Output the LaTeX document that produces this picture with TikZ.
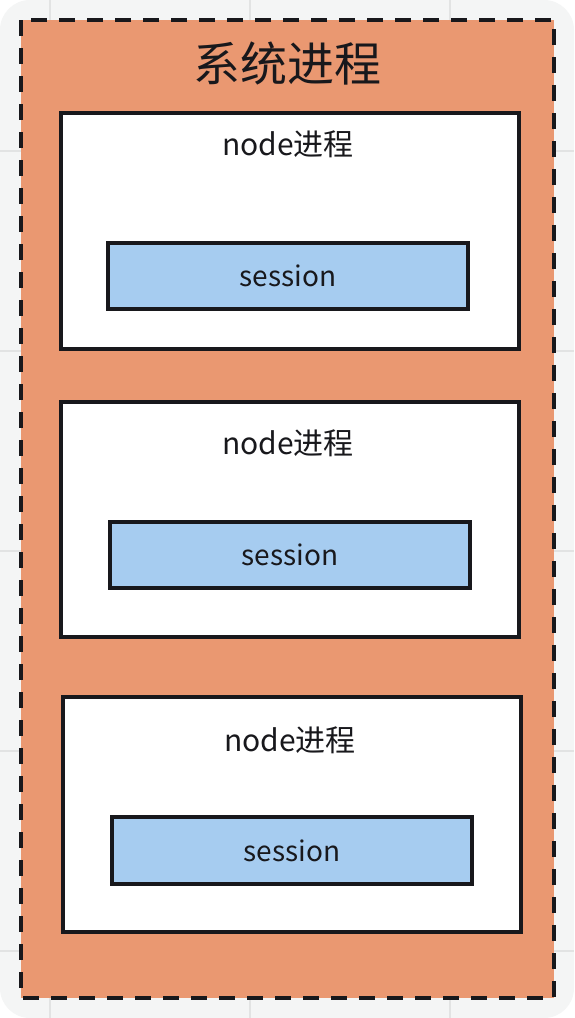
\documentclass[tikz,border=0pt]{standalone}
\usepackage{fontspec}
\setmainfont{Noto Sans CJK SC}
\definecolor{orangefill}{HTML}{EA9871}
\definecolor{sessblue}{HTML}{A6CCF0}
\definecolor{ink}{HTML}{18181C}
\definecolor{dotbg}{HTML}{F4F5F5}
\definecolor{gridline}{HTML}{E2E3E3}
\begin{document}
\begin{tikzpicture}[x=1pt,y=-1pt,
  outerbox/.style={draw=ink,fill=orangefill,line width=3.5pt,dash pattern=on 16pt off 12pt},
  procbox/.style={draw=ink,fill=white,line width=3.5pt},
  sessbox/.style={draw=ink,fill=sessblue,line width=3.5pt},
  titletext/.style={font=\fontsize{47}{52}\selectfont,text=ink},
  nodetext/.style={font=\fontsize{30}{34}\selectfont,text=ink},
  sesstext/.style={font=\fontsize{28}{32}\selectfont,text=ink}]
\useasboundingbox (0,0) rectangle (574,1018);
\fill[white] (0,0) rectangle (574,1018);
\fill[dotbg,rounded corners=30pt] (0,0) rectangle (574,1018);
\foreach \gx in {50,250,450} \draw[gridline,line width=1.5pt] (\gx,0) -- (\gx,1018);
\foreach \gy in {151,351,551,751,951} \draw[gridline,line width=1.5pt] (0,\gy) -- (574,\gy);
% outer system process
\draw[outerbox] (21,20) rectangle (554,998);
\node[titletext] (title) at (287,63) {系统进程};
% node process 1
\draw[procbox] (61,113) rectangle (519,349);
\node[nodetext] (n1) at (288,144) {node进程};
\draw[sessbox] (108,243) rectangle (468,309);
\node[sesstext] (s1) at (288,276) {session};
% node process 2
\draw[procbox] (61,402) rectangle (519,637);
\node[nodetext] (n2) at (288,443) {node进程};
\draw[sessbox] (110,522) rectangle (470,588);
\node[sesstext] (s2) at (290,555) {session};
% node process 3
\draw[procbox] (63,697) rectangle (521,932);
\node[nodetext] (n3) at (290,740) {node进程};
\draw[sessbox] (112,817) rectangle (472,884);
\node[sesstext] (s3) at (292,851) {session};
\end{tikzpicture}
\end{document}
